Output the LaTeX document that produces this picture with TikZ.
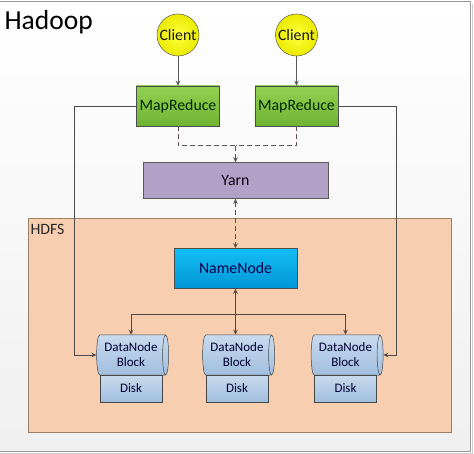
\documentclass[tikz,border=0pt]{standalone}
\usepackage{fontspec}
\setmainfont{Carlito}
\usetikzlibrary{arrows.meta,shapes.geometric,calc}
\definecolor{mrtop}{RGB}{146,208,80}
\definecolor{mrbot}{RGB}{112,180,52}
\definecolor{yarnc}{RGB}{178,161,199}
\definecolor{nntop}{RGB}{20,190,245}
\definecolor{nnbot}{RGB}{0,150,215}
\definecolor{dntop}{RGB}{200,218,238}
\definecolor{dnbot}{RGB}{160,190,222}
\definecolor{hdfsc}{RGB}{247,206,176}
\definecolor{linec}{RGB}{85,72,66}
\definecolor{dashc}{RGB}{95,82,76}
\tikzset{
  client/.style={circle,minimum size=42pt,inner sep=0pt,draw=gray!70!black,line width=0.5pt,
    inner color=yellow!75!white,outer color=yellow!92!black,font=\fontsize{15.8}{18}\selectfont,text=black!90},
  mrbox/.style={rectangle,minimum width=83pt,minimum height=40pt,draw=gray!60!black,line width=0.5pt,
    top color=mrtop,bottom color=mrbot,font=\fontsize{15.8}{18}\selectfont,text=black!85!green},
  yarnbox/.style={rectangle,minimum width=185pt,minimum height=36pt,draw=gray!70!black,line width=0.5pt,
    fill=yarnc,font=\fontsize{15.8}{18}\selectfont,text=black!85!violet},
  nnbox/.style={rectangle,minimum width=123pt,minimum height=40pt,draw=gray!60!black,line width=0.5pt,
    top color=nntop,bottom color=nnbot,font=\fontsize{15.8}{18}\selectfont,text=blue!30!black},
  dncyl/.style={cylinder,shape aspect=0.25,minimum height=72pt,minimum width=40pt,inner sep=0pt,
    draw=gray!55!black,line width=0.5pt,top color=dntop,bottom color=dnbot,
    font=\fontsize{13}{15}\selectfont,align=center,text=black!80!blue},
  disk/.style={rectangle,minimum width=62pt,minimum height=27pt,draw=gray!55!black,line width=0.5pt,
    top color=dntop,bottom color=dnbot,font=\fontsize{13}{15}\selectfont,text=black!80!blue},
  arr/.style={-{Stealth[length=5pt,width=4.5pt]}},
  biarr/.style={{Stealth[length=5pt,width=4.5pt]}-{Stealth[length=5pt,width=4.5pt]}},
  flow/.style={draw=gray!70!black,line width=0.8pt},
  dashline/.style={draw=dashc,line width=1pt,dash pattern=on 5pt off 3pt},
  sol/.style={draw=linec,line width=0.8pt},
  side/.style={draw=black!70,line width=0.7pt}
}
\begin{document}
\begin{tikzpicture}[x=1pt,y=-1pt]
\useasboundingbox (0,0) rectangle (474,454);
% frame
\fill[top color=white,bottom color=gray!12] (-2,2) rectangle (470,451);
\draw[gray!80,line width=1pt] (-2,2) -- (470,2) -- (470,451) -- (-2,451);
\draw[gray!40,line width=1pt] (472.5,4) -- (472.5,453) -- (0,453);
\node[anchor=west,font=\fontsize{27.5}{30}\selectfont,text=black] (title) at (1,22) {Hadoop};
% HDFS
\node[draw=gray!60!brown,line width=0.6pt,fill=hdfsc,minimum width=423pt,minimum height=214pt,inner sep=0pt] (hdfs) at (239.5,325) {};
\node[anchor=west,font=\fontsize{15.8}{18}\selectfont,text=black!85] (hdfslabel) at (27,229) {HDFS};
% nodes
\node[client] (c1) at (178,35) {Client};
\node[client] (c2) at (296.5,35) {Client};
\node[mrbox] (mr1) at (178,106) {MapReduce};
\node[mrbox] (mr2) at (296.5,106) {MapReduce};
\node[yarnbox] (yarn) at (235.5,180.5) {Yarn};
\node[nnbox] (nn) at (235.5,268.5) {NameNode};
\node[dncyl] (dn1) at (131,355) {DataNode\\Block};
\node[dncyl] (dn2) at (237,355) {DataNode\\Block};
\node[dncyl] (dn3) at (345.5,355) {DataNode\\Block};
\node[disk] (dk1) at (131,388.5) {Disk};
\node[disk] (dk2) at (237,388.5) {Disk};
\node[disk] (dk3) at (345.5,388.5) {Disk};
% connectors
\draw[flow,arr] (c1) -- (mr1);
\draw[flow,arr] (c2) -- (mr2);
\coordinate (merge) at (235.5,146);
\draw[dashline] (mr1.south) |- (merge);
\draw[dashline] (mr2.south) |- (merge);
\draw[dashline,arr] (merge) -- (yarn.north);
\draw[dashline,biarr] (yarn.south) -- (nn.north);
\coordinate (hub) at (235.5,314);
\draw[sol,biarr] (nn.south) -- (hub) -- (hub |- dn2.north);
\draw[sol,arr] (hub) -| (dn1.north);
\draw[sol,arr] (hub) -| (dn3.north);
\coordinate (lx) at (74,0);
\coordinate (rx) at (396,0);
\draw[side,arr] (mr1.west) -| (lx |- dn1.west) -- (dn1.west);
\draw[side,arr] (mr2.east) -| (rx |- dn3.east) -- (dn3.east);
\end{tikzpicture}
\end{document}
